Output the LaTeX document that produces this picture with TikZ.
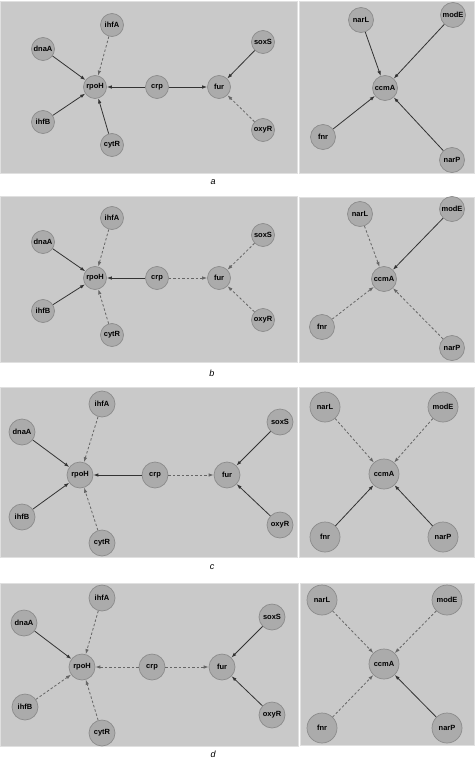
\documentclass[tikz,border=0pt]{standalone}
\usepackage{fontspec}
\setmainfont{Liberation Sans}
\usetikzlibrary{arrows.meta}

\begin{document}
\begin{tikzpicture}[x=1pt,y=-1pt,
		panel/.style={fill=black!21, draw=black!12, line width=0.6pt},
		gene/.style={circle, fill=black!33, draw=black!45, line width=0.7pt, inner sep=0pt, font=\bfseries\fontsize{7.5}{8}\selectfont},
		strong/.style={draw=black!80, line width=0.8pt, -{Latex[length=5pt,width=3.5pt]}},
		weak/.style={draw=black!60, line width=0.8pt, dash pattern=on 2.5pt off 2pt, -{Latex[length=5pt,width=3.5pt]}},
		tag/.style={font=\itshape\fontsize{9}{10}\selectfont}]
		\useasboundingbox (0,0) rectangle (474,760);
		% panel a
		\draw[panel] (0,1) rectangle (297,173);
		\draw[panel] (299,1) rectangle (474,173);
		\foreach \n/\x/\y in {ihfA/112/25, dnaA/43/49, rpoH/95/87, crp/157/87, fur/219/87, soxS/263/42, oxyR/263/130, ihfB/43/122, cytR/112/145} {
			\node[gene, minimum size=23pt] (a-\n) at (\x,\y) {\n};
		}
		\foreach \n/\x/\y in {narL/361/20, modE/453/15, ccmA/385/88, fnr/323/137, narP/452/160} {
			\node[gene, minimum size=25pt] (a-\n) at (\x,\y) {\n};
		}
		\foreach \s/\t/\k in {dnaA/rpoH/strong, ihfA/rpoH/weak, ihfB/rpoH/strong, cytR/rpoH/strong, crp/rpoH/strong, crp/fur/strong, soxS/fur/strong, oxyR/fur/weak, narL/ccmA/strong, modE/ccmA/strong, fnr/ccmA/strong, narP/ccmA/strong} {
			\draw[\k] (a-\s) -- (a-\t);
		}
		\node[tag] (tag-a) at (213,182) {a};
		% panel b
		\draw[panel] (0,196) rectangle (297,362);
		\draw[panel] (299,197) rectangle (474,362);
		\foreach \n/\x/\y in {ihfA/112/218, dnaA/43/242, rpoH/95/278, crp/157/278, fur/219/278, soxS/263/235, oxyR/263/320, ihfB/43/311, cytR/112/335} {
			\node[gene, minimum size=23pt] (b-\n) at (\x,\y) {\n};
		}
		\foreach \n/\x/\y in {narL/360/214, modE/452/209, ccmA/384/279, fnr/322/327, narP/452/348} {
			\node[gene, minimum size=25pt] (b-\n) at (\x,\y) {\n};
		}
		\foreach \s/\t/\k in {dnaA/rpoH/strong, ihfA/rpoH/weak, ihfB/rpoH/strong, cytR/rpoH/weak, crp/rpoH/strong, crp/fur/weak, soxS/fur/weak, oxyR/fur/weak, narL/ccmA/weak, modE/ccmA/strong, fnr/ccmA/weak, narP/ccmA/weak} {
			\draw[\k] (b-\s) -- (b-\t);
		}
		\node[tag] (tag-b) at (212,373) {b};
		% panel c
		\draw[panel] (0,387) rectangle (297,557);
		\draw[panel] (299,387) rectangle (474,557);
		\foreach \n/\x/\y in {ihfA/102/404, dnaA/22/432, rpoH/80/475, crp/155/475, fur/227/475, soxS/280/422, oxyR/280/525, ihfB/22/517, cytR/102/543} {
			\node[gene, minimum size=26pt] (c-\n) at (\x,\y) {\n};
		}
		\foreach \n/\x/\y in {narL/325/407, modE/443/407, ccmA/384/474, fnr/325/537, narP/443/537} {
			\node[gene, minimum size=30pt] (c-\n) at (\x,\y) {\n};
		}
		\foreach \s/\t/\k in {dnaA/rpoH/strong, ihfA/rpoH/weak, ihfB/rpoH/strong, cytR/rpoH/weak, crp/rpoH/strong, crp/fur/weak, soxS/fur/strong, oxyR/fur/strong, narL/ccmA/weak, modE/ccmA/weak, fnr/ccmA/strong, narP/ccmA/strong} {
			\draw[\k] (c-\s) -- (c-\t);
		}
		\node[tag] (tag-c) at (212,567) {c};
		% panel d
		\draw[panel] (0,583) rectangle (298,746);
		\draw[panel] (300,583) rectangle (474,745);
		\foreach \n/\x/\y in {ihfA/102/598, dnaA/24/623, rpoH/82/667, crp/152/667, fur/222/667, soxS/272/617, oxyR/272/715, ihfB/25/707, cytR/102/733} {
			\node[gene, minimum size=26pt] (d-\n) at (\x,\y) {\n};
		}
		\foreach \n/\x/\y in {narL/322/600, modE/447/600, ccmA/384/664, fnr/322/728, narP/447/728} {
			\node[gene, minimum size=30pt] (d-\n) at (\x,\y) {\n};
		}
		\foreach \s/\t/\k in {dnaA/rpoH/strong, ihfA/rpoH/weak, ihfB/rpoH/weak, cytR/rpoH/weak, crp/rpoH/weak, crp/fur/weak, soxS/fur/strong, oxyR/fur/strong, narL/ccmA/weak, modE/ccmA/weak, fnr/ccmA/weak, narP/ccmA/strong} {
			\draw[\k] (d-\s) -- (d-\t);
		}
		\node[tag] (tag-d) at (213,754) {d};
	\end{tikzpicture}
\end{document}
